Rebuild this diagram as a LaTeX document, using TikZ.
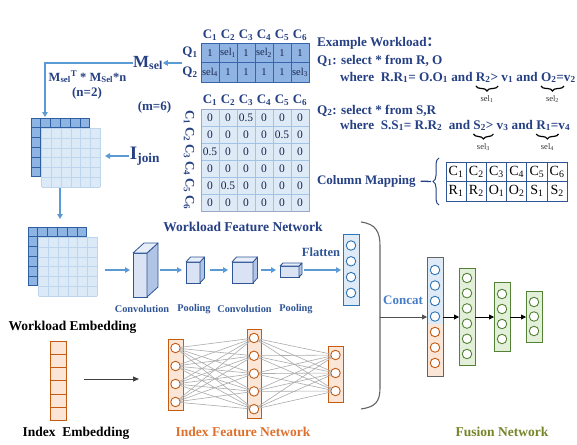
\documentclass[tikz,border=0pt]{standalone}
\usepackage{fontspec}
\setmainfont{Liberation Serif}
\newfontfamily\cjkfont{Noto Sans CJK SC}
\usetikzlibrary{arrows.meta,calc,decorations.pathreplacing}
\newcommand\mysub[1]{\textsubscript{#1}}
\definecolor{navy}{RGB}{38,64,132}
\definecolor{cellink}{RGB}{25,35,75}
\definecolor{arrowblue}{RGB}{91,155,213}
\definecolor{ufill}{RGB}{143,180,227}
\definecolor{uline}{RGB}{55,100,170}
\definecolor{lfill}{RGB}{222,235,247}
\definecolor{lline}{RGB}{160,195,230}
\definecolor{dfill}{RGB}{141,180,226}
\definecolor{dline}{RGB}{46,95,160}
\definecolor{ffill}{RGB}{220,233,247}
\definecolor{fline}{RGB}{190,213,238}
\definecolor{cfront}{RGB}{218,227,243}
\definecolor{cside}{RGB}{176,196,230}
\definecolor{ctop}{RGB}{232,238,249}
\definecolor{cline}{RGB}{47,85,151}
\definecolor{nblue}{RGB}{46,117,182}
\definecolor{nbfill}{RGB}{222,235,247}
\definecolor{norange}{RGB}{197,90,17}
\definecolor{nofill}{RGB}{251,229,214}
\definecolor{ngreen}{RGB}{84,130,53}
\definecolor{ngfill}{RGB}{226,240,217}
\definecolor{idxorange}{RGB}{222,112,45}
\definecolor{fusion}{RGB}{120,132,40}
\definecolor{concatblue}{RGB}{70,125,200}
\definecolor{bracegray}{RGB}{100,100,100}
\definecolor{edgegray}{RGB}{172,172,172}
\definecolor{labblue}{RGB}{47,85,151}
\newcommand\mstack[2]{%
  \begin{scope}[shift={(#1,#2)}]
    \fill[dfill] (0,0) rectangle (58.8,58.8);
    \foreach \k in {0,...,6}{
      \draw[dline,line width=.8pt] (\k*9.8,0) -- (\k*9.8,58.8);
      \draw[dline,line width=.8pt] (0,\k*9.8) -- (58.8,\k*9.8);}
    \fill[ffill] (10.5,10.3) rectangle ++(58.8,58.8);
    \foreach \k in {0,...,6}{
      \draw[fline,line width=.8pt] (10.5+\k*9.8,10.3) -- ++(0,58.8);
      \draw[fline,line width=.8pt] (10.5,10.3+\k*9.8) -- ++(58.8,0);}
  \end{scope}}
\newcommand\boxfaces[3]{%
  \filldraw[fill=cside,draw=cline,line width=.8pt,line join=round] (#1.north east) -- ++(#2,-#3) -- ($(#1.south east)+(#2,-#3)$) -- (#1.south east) -- cycle;
  \filldraw[fill=ctop,draw=cline,line width=.8pt,line join=round] (#1.north west) -- ++(#2,-#3) -- ($(#1.north east)+(#2,-#3)$) -- (#1.north east) -- cycle;}
\begin{document}
\begin{tikzpicture}[x=1pt,y=-1pt,
  every node/.style={inner sep=0pt, outer sep=0pt},
  hdr/.style={font=\fontsize{13}{15}\selectfont\bfseries, text=navy},
  ucell/.style={draw=uline, fill=ufill, line width=.6pt, minimum width=18pt, minimum height=19.5pt, font=\fontsize{10.5}{12}\selectfont, text=cellink},
  lcell/.style={draw=lline, fill=lfill, line width=.6pt, minimum width=18pt, minimum height=17pt, font=\fontsize{11.5}{13}\selectfont, text=cellink},
  mcell/.style={draw=labblue, line width=.8pt, minimum width=20.2pt, minimum height=19.5pt, font=\fontsize{14}{16}\selectfont},
  wtext/.style={font=\fontsize{13.2}{15}\selectfont\bfseries, text=navy, anchor=base west},
  sellab/.style={font=\fontsize{8.5}{10}\selectfont, text=black!80},
  selbrace/.style={draw=black, line width=1.2pt, decorate, decoration={brace, amplitude=5pt}},
  barrow/.style={draw=arrowblue, line width=1.3pt, -{Triangle[length=5pt,width=5.5pt]}},
  cubefront/.style={draw=cline, fill=cfront, line width=.8pt},
  col/.style={draw, line width=1pt, minimum width=16pt},
  circ/.style={circle, draw, fill=white, line width=.9pt, minimum size=9.5pt},
  edge/.style={draw=edgegray, line width=.6pt},
  blabel/.style={font=\fontsize{13.5}{15}\selectfont\bfseries},
  clabel/.style={font=\fontsize{10.3}{12}\selectfont\bfseries, text=labblue},
  karrow/.style={draw=black, line width=.9pt, -{Triangle[length=5pt,width=5pt]}}
]
\useasboundingbox (0,0) rectangle (577,444);
\fill[white] (0,0) rectangle (577,444);

% ---------- upper Q matrix ----------
\foreach \c in {1,...,6}
  \node[hdr] (UH-\c) at ({201+18*(\c-0.5)},35) {C\mysub{\c}};
\foreach \row [count=\r] in {{1,sel\mysub{1},1,sel\mysub{2},1,1},{sel\mysub{4},1,1,1,1,sel\mysub{3}}}{
  \foreach \v [count=\c] in \row
    \node[ucell] (U-\r-\c) at ({201+18*(\c-0.5)},{43+19.5*(\r-0.5)}) {\v};
}
\draw[uline,line width=.9pt] (U-1-1.north west) rectangle (U-2-6.south east);
\node[hdr] (Q1) at (190,52.75) {Q\mysub{1}};
\node[hdr] (Q2) at (190,72.25) {Q\mysub{2}};

% ---------- lower matrix ----------
\foreach \c in {1,...,6}
  \node[hdr] (LH-\c) at ({201+18*(\c-0.5)},100) {C\mysub{\c}};
\foreach \r in {1,...,6}
  \node[hdr, rotate=-90] (RL-\r) at (189,{109+17*(\r-0.5)}) {C\mysub{\r}};
\foreach \row [count=\r] in {{0,0,0.5,0,0,0},{0,0,0,0,0.5,0},{0.5,0,0,0,0,0},{0,0,0,0,0,0},{0,0.5,0,0,0,0},{0,0,0,0,0,0}}{
  \foreach \v [count=\c] in \row
    \node[lcell] (L-\r-\c) at ({201+18*(\c-0.5)},{109+17*(\r-0.5)}) {\v};
}
\draw[lline!80!blue!70!black!60,line width=.8pt] (L-1-1.north west) rectangle (L-6-6.south east);
\node[hdr] (mlab) at (154.5,107) {(m=6)};

% ---------- M_sel ----------
\node[font=\fontsize{17}{19}\selectfont\bfseries, text=navy] (msel) at (148,63) {M\textsubscript{sel}};
\coordinate (qmid) at (182,63);
\draw[barrow] (qmid) -- (msel.east);
\node[font=\fontsize{12.5}{14}\selectfont\bfseries, text=navy] (mform) at (87.5,77) {M\textsubscript{sel}\textsuperscript{T} * M\textsubscript{Sel}*n};
\node[hdr] (nlab) at (87,93) {(n=2)};

% ---------- left stacks ----------
\mstack{31}{118}
\mstack{28}{227}
\coordinate (stackAtop) at (45,117);
\draw[barrow] (msel.west) -| (stackAtop);
\node[font=\fontsize{19}{21}\selectfont\bfseries, text=navy] (ijoin) at (145,156) {I\textsubscript{join}};
\coordinate (ijt) at (105,156);
\draw[barrow, shorten <=1pt] (ijoin.west) -- (ijt);
\coordinate (dA) at (60,188);
\coordinate (dB) at (60,219);
\draw[barrow] (dA) -- (dB);

% ---------- CNN ----------
\coordinate (arow) at (0,270);
\node[cubefront, minimum width=14pt, minimum height=44pt] (conv1) at (140,275) {};
\boxfaces{conv1}{11}{10}
\node[cubefront, minimum width=14pt, minimum height=21pt] (pool1) at (193,272.5) {};
\boxfaces{pool1}{4.5}{5}
\node[cubefront, minimum width=21pt, minimum height=21pt] (conv2) at (242.5,272.5) {};
\boxfaces{conv2}{4.5}{5}
\node[cubefront, minimum width=19pt, minimum height=11pt] (pool2) at (289.5,271.5) {};
\boxfaces{pool2}{3}{3}
\coordinate (bout) at (105,270);
\draw[barrow, shorten >=3pt] (bout) -- (conv1.west |- arow);
\draw[barrow, shorten <=13pt, shorten >=4pt] (conv1.east |- arow) -- (pool1.west |- arow);
\draw[barrow, shorten <=10pt, shorten >=4pt] (pool1.east |- arow) -- (conv2.west |- arow);
\draw[barrow, shorten <=8pt, shorten >=4pt] (conv2.east |- arow) -- (pool2.west |- arow);
\node[col, draw=nblue, fill=nbfill, minimum height=71pt] (flat) at (351,269.5) {};
\foreach \i in {1,...,4}
  \node[circ, draw=nblue] (F-\i) at (351,{245.5+15.8*(\i-1)}) {};
\draw[barrow, shorten <=5pt, shorten >=2pt] (pool2.east |- arow) -- (flat.west |- arow);
\node[font=\fontsize{12.5}{14}\selectfont\bfseries, text=labblue] (flatlab) at (321,252) {Flatten};
\node[clabel] (cl1) at (142,309) {Convolution};
\node[clabel] (cl2) at (194,309) {Pooling};
\node[clabel] (cl3) at (244.5,309) {Convolution};
\node[clabel] (cl4) at (296,309) {Pooling};
\node[blabel, text=navy] (wfn) at (243,227) {Workload Feature Network};

% ---------- bracket + concat ----------
\draw[bracegray, line width=1.1pt] (361,222) .. controls (376,224) and (380,232) .. (380,246) -- (380,388) .. controls (380,402) and (375,407) .. (361,409);
\coordinate (cin) at (380,317);
\node[col, draw=none, minimum height=119pt] (concat) at (435,316.5) {};
\fill[nbfill] (concat.north west) rectangle ($(concat.east)+(0,7)$);
\fill[nofill] ($(concat.west)+(0,7)$) rectangle (concat.south east);
\draw[bracegray, line width=1pt] (concat.north west) rectangle (concat.south east);
\foreach \i in {1,...,4}
  \node[circ, draw=nblue] (CB-\i) at (435,{270+15.5*(\i-1)}) {};
\foreach \i in {1,...,3}
  \node[circ, draw=norange] (CO-\i) at (435,{332+15.5*(\i-1)}) {};
\draw[draw=bracegray!80!black, line width=.9pt, -{Triangle[length=5pt,width=5pt]}] (cin) -- (concat.west |- cin);
\node[font=\fontsize{13}{15}\selectfont\bfseries, text=concatblue] (concatlab) at (403,300) {Concat};

% ---------- fusion ----------
\node[col, draw=ngreen, fill=ngfill, minimum height=97pt] (G1) at (467,316.5) {};
\foreach \i in {1,...,6}
  \node[circ, draw=ngreen] (G1-\i) at (467,{278+15.2*(\i-1)}) {};
\node[col, draw=ngreen, fill=ngfill, minimum height=69pt] (G2) at (502,316.5) {};
\foreach \i in {1,...,4}
  \node[circ, draw=ngreen] (G2-\i) at (502,{294+15*(\i-1)}) {};
\node[col, draw=ngreen, fill=ngfill, minimum height=51pt] (G3) at (534,316.5) {};
\foreach \i in {1,...,3}
  \node[circ, draw=ngreen] (G3-\i) at (534,{302+14.5*(\i-1)}) {};
\draw[karrow] (concat.east |- cin) -- (G1.west |- cin);
\draw[karrow] (G1.east |- cin) -- (G2.west |- cin);
\draw[karrow] (G2.east |- cin) -- (G3.west |- cin);
\node[blabel, text=fusion] (fnl) at (502,432) {Fusion Network};

% ---------- index side ----------
\node[blabel, text=black] (wel) at (72.5,327) {Workload Embedding};
\foreach \i in {1,...,6}
  \node[draw=norange, fill=nofill, line width=1pt, minimum width=16pt, minimum height=13.33pt] (E-\i) at (58,{341+13.33*(\i-0.5)}) {};
\coordinate (emid) at (66,379);
\coordinate (eend) at (139,379);
\draw[draw=black!75, line width=1pt, -{Triangle[length=6pt,width=5pt]}, shorten <=18pt] (emid) -- (eend);
\node[blabel, text=black] (iel) at (76,433) {Index\ \ Embedding};

\node[col, draw=norange, fill=nofill, minimum width=15pt, minimum height=71pt] (I1) at (175.5,374.5) {};
\node[col, draw=norange, fill=nofill, minimum width=14pt, minimum height=89pt] (I2) at (254,373.5) {};
\node[col, draw=norange, fill=nofill, minimum width=15pt, minimum height=56pt] (I3) at (335.5,374) {};
\foreach \i in {1,...,4}
  \node[circ, draw=norange] (A-\i) at (175.5,{348+18*(\i-1)}) {};
\foreach \i in {1,...,5}
  \node[circ, draw=norange] (B-\i) at (254,{338+17.8*(\i-1)}) {};
\foreach \i in {1,...,3}
  \node[circ, draw=norange] (C-\i) at (335.5,{355+18*(\i-1)}) {};
\foreach \i in {1,...,4}
  \foreach \j in {1,...,5}
    \draw[edge] (A-\i) -- (B-\j);
\foreach \i in {1,...,5}
  \foreach \j in {1,...,3}
    \draw[edge] (B-\i) -- (C-\j);
\node[blabel, text=idxorange] (ifn) at (243,432) {Index Feature Network};

% ---------- example workload ----------
\node[wtext] (ex) at (317,47) {Example Workload{\cjkfont ：}};
\node[wtext] (q1) at (317,64) {Q\mysub{1}: select * from R, O};
\node[wtext] (w1a) at (340,81) {where\ \ R.R\mysub{1}= O.O\mysub{1} and\ \null};
\node[wtext] (w1b) at (w1a.base east) {R\mysub{2}>};
\node[wtext] (w1c) at (w1b.base east) {\ v\mysub{1} and\ \null};
\node[wtext] (w1d) at (w1c.base east) {O\mysub{2}=};
\node[wtext] (w1e) at (w1d.base east) {v\mysub{2}};
\draw[selbrace] ($(w1b.south east)+(0,3)$) -- ($(w1b.south west)+(0,3)$);
\draw[selbrace] ($(w1d.south east)+(0,3)$) -- ($(w1d.south west)+(0,3)$);
\node[sellab] (s1) at ($(w1b.south)+(0,16)$) {sel\mysub{1}};
\node[sellab] (s2) at ($(w1d.south)+(0,16)$) {sel\mysub{2}};
\node[wtext] (q2) at (317,114) {Q\mysub{2}: select * from S,R};
\node[wtext] (w2a) at (340,129) {where\ \ S.S\mysub{1}= R.R\mysub{2}\ \ and\ \null};
\node[wtext] (w2b) at (w2a.base east) {S\mysub{2}>};
\node[wtext] (w2c) at (w2b.base east) {\ v\mysub{3} and\ \null};
\node[wtext] (w2d) at (w2c.base east) {R\mysub{1}=};
\node[wtext] (w2e) at (w2d.base east) {v\mysub{4}};
\draw[selbrace] ($(w2b.south east)+(0,3)$) -- ($(w2b.south west)+(0,3)$);
\draw[selbrace] ($(w2d.south east)+(0,3)$) -- ($(w2d.south west)+(0,3)$);
\node[sellab] (s3) at ($(w2b.south)+(0,16)$) {sel\mysub{3}};
\node[sellab] (s4) at ($(w2d.south)+(0,16)$) {sel\mysub{4}};

% ---------- column mapping ----------
\node[font=\fontsize{13}{15}\selectfont\bfseries, text=navy, anchor=west] (cm) at (317,181) {Column Mapping};
\coordinate (brtip) at (431,181.5);
\draw[navy, line width=1.3pt, shorten <=5pt] (cm.east) -- (brtip);
\draw[navy, line width=1pt, decorate, decoration={brace, amplitude=6pt}] (439,205) -- (439,158);
\foreach \row [count=\r] in {{C\mysub{1},C\mysub{2},C\mysub{3},C\mysub{4},C\mysub{5},C\mysub{6}},{R\mysub{1},R\mysub{2},O\mysub{1},O\mysub{2},S\mysub{1},S\mysub{2}}}{
  \foreach \v [count=\c] in \row
    \node[mcell] (CM-\r-\c) at ({446+20.2*(\c-0.5)},{162+19.5*(\r-0.5)}) {\v};
}
\end{tikzpicture}
\end{document}
